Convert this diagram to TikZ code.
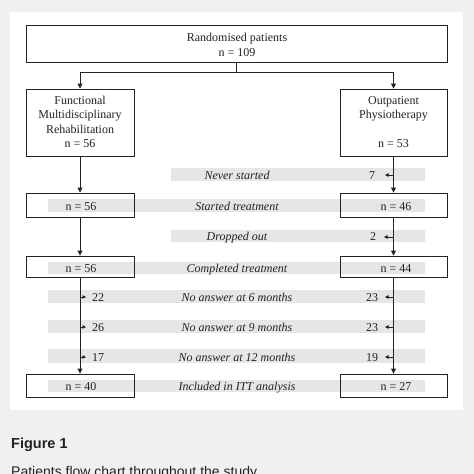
\documentclass[tikz,border=0pt]{standalone}
\usepackage{fontspec}
\setmainfont{Liberation Serif}
\newfontfamily\capfont{Liberation Sans}
\usetikzlibrary{arrows.meta}
\definecolor{bgc}{HTML}{F0F0F0}
\definecolor{bandc}{HTML}{E6E6E6}
\definecolor{ink}{HTML}{222222}
\begin{document}
\begin{tikzpicture}[x=1pt,y=-1pt,
  box/.style={draw=ink,line width=0.9pt},
  band/.style={fill=bandc,draw=none},
  lab/.style={font=\fontsize{12}{14.5}\selectfont,text=ink,inner sep=0pt,align=center},
  slab/.style={font=\fontsize{12}{14.5}\selectfont,text=ink,inner sep=0pt,anchor=base},
  ilab/.style={font=\fontsize{12}{14.5}\selectfont\itshape,text=ink,inner sep=0pt,anchor=base},
  flow/.style={draw=ink,line width=0.9pt,-{Triangle[length=5pt,width=5pt]}},
  side/.style={draw=ink,line width=0.7pt,-{Triangle[length=3.5pt,width=3.5pt]}},
  conn/.style={draw=ink,line width=0.9pt}]
\useasboundingbox (0,0) rectangle (474,474);
\clip (0,0) rectangle (474,474);
\fill[bgc] (0,0) rectangle (474,474);
\fill[white] (10,12) rectangle (463,410);
% bands
\fill[band] (171,168) rectangle (425,181);
\fill[band] (48,199) rectangle (425,212);
\fill[band] (171,230) rectangle (425,242);
\fill[band] (48,262) rectangle (425,274);
\fill[band] (48,290) rectangle (425,303);
\fill[band] (48,320) rectangle (425,333);
\fill[band] (48,349) rectangle (425,363);
\fill[band] (48,380) rectangle (425,392);
% boxes
\node[box,minimum width=421pt,minimum height=37pt,inner sep=0pt] (top) at (236.5,43.5) {};
\node[box,minimum width=108pt,minimum height=67pt,inner sep=0pt] (L0) at (80,122.5) {};
\node[box,minimum width=107pt,minimum height=67pt,inner sep=0pt] (R0) at (393.5,122.5) {};
\node[box,minimum width=108pt,minimum height=24pt,inner sep=0pt] (L1) at (80,205) {};
\node[box,minimum width=107pt,minimum height=24pt,inner sep=0pt] (R1) at (393.5,205) {};
\node[box,minimum width=108pt,minimum height=21pt,inner sep=0pt] (L2) at (80,266.5) {};
\node[box,minimum width=107pt,minimum height=21pt,inner sep=0pt] (R2) at (393.5,266.5) {};
\node[box,minimum width=108pt,minimum height=23pt,inner sep=0pt] (L3) at (80,385.5) {};
\node[box,minimum width=107pt,minimum height=23pt,inner sep=0pt] (R3) at (393.5,385.5) {};
% texts in boxes
\node[lab] (toptxt) at (237,45) {Randomised patients\\n = 109};
\node[lab] (L0txt) at (80,122) {Functional\\Multidisciplinary\\Rehabilitation\\n = 56};
\node[lab] (R0txt) at (393.5,122) {Outpatient\\Physiotherapy\\[14.5pt]n = 53};
\node[slab] (L1txt) at (81,210) {n = 56};
\node[slab] (R1txt) at (396,210) {n = 46};
\node[slab] (L2txt) at (81,272) {n = 56};
\node[slab] (R2txt) at (396,272) {n = 44};
\node[slab] (L3txt) at (81,390) {n = 40};
\node[slab] (R3txt) at (396,390) {n = 27};
% middle labels
\node[ilab] (m1) at (237,179) {Never started};
\node[ilab] (m2) at (237,210) {Started treatment};
\node[ilab] (m3) at (237,240) {Dropped out};
\node[ilab] (m4) at (237,272) {Completed treatment};
\node[ilab] (m5) at (237,301) {No answer at 6 months};
\node[ilab] (m6) at (237,331) {No answer at 9 months};
\node[ilab] (m7) at (237,361) {No answer at 12 months};
\node[ilab] (m8) at (237,390) {Included in ITT analysis};
% side numbers
\node[slab] (n7) at (372,179) {7};
\node[slab] (n2) at (373,240) {2};
\node[slab] (n22) at (98,301) {22};
\node[slab] (n26) at (98,331) {26};
\node[slab] (n17) at (98,361) {17};
\node[slab] (n23a) at (372,301) {23};
\node[slab] (n23b) at (372,331) {23};
\node[slab] (n19) at (372,361) {19};
% side arrow ends
\coordinate (a7) at (385,175);
\coordinate (a2) at (384,237);
\coordinate (a22) at (86,297);
\coordinate (a26) at (86,327);
\coordinate (a17) at (86,357);
\coordinate (b23a) at (385,297);
\coordinate (b23b) at (385,327);
\coordinate (b19) at (385,357);
% connectors
\coordinate (split) at (top.south |- 0,72);
\draw[conn] (top.south) -- (split);
\draw[flow] (split) -| (L0.north);
\draw[flow] (split) -| (R0.north);
\draw[flow] (L0.south) -- (L1.north);
\draw[flow] (R0.south) -- (R1.north);
\draw[flow] (L1.south) -- (L2.north);
\draw[flow] (R1.south) -- (R2.north);
\draw[flow] (L2.south) -- (L3.north);
\draw[flow] (R2.south) -- (R3.north);
\draw[side] (R0.south |- a7) -- (a7);
\draw[side] (R0.south |- a2) -- (a2);
\draw[side] (L2.south |- a22) -- (a22);
\draw[side] (L2.south |- a26) -- (a26);
\draw[side] (L2.south |- a17) -- (a17);
\draw[side] (R2.south |- b23a) -- (b23a);
\draw[side] (R2.south |- b23b) -- (b23b);
\draw[side] (R2.south |- b19) -- (b19);
% caption
\node[font=\capfont\bfseries\fontsize{14.5}{17}\selectfont,text=ink,anchor=base west,inner sep=0pt] (fig) at (11,448) {Figure 1};
\node[font=\capfont\fontsize{14}{17}\selectfont,text=ink,anchor=base west,inner sep=0pt] (cap) at (11,476) {Patients flow chart throughout the study};
\end{tikzpicture}
\end{document}
